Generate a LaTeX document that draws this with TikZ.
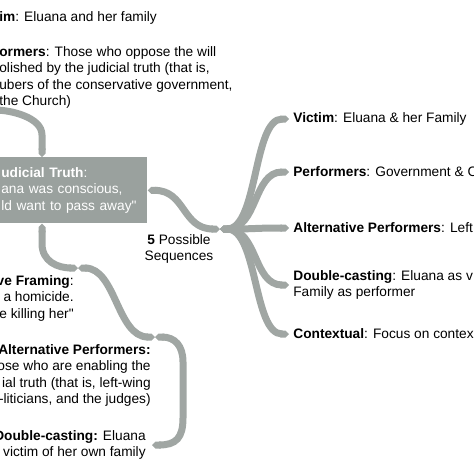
\documentclass[tikz,border=0pt]{standalone}
\usepackage{fontspec}
\setmainfont{Liberation Sans}
\usetikzlibrary{arrows.meta,positioning}

\definecolor{mapgray}{RGB}{154,161,158}
\definecolor{linkgray}{RGB}{160,166,163}

\tikzset{
  topic/.style={font=\fontsize{7.8}{9.2}\selectfont,inner sep=0pt},
  subtopic/.style={topic,anchor=west,inner xsep=0.8mm,align=left},
  link/.style={draw=linkgray,line width=1.4mm,{Triangle Cap}-{Triangle Cap}},
}

\begin{document}
\begin{tikzpicture}[x=0.2mm,y=-0.2mm]
	\useasboundingbox (0,0) rectangle (474,474);
	\clip (0,0) rectangle (474,474);
	% central topic
	\node[topic,fill=mapgray,text=white,anchor=north west,minimum width=30.2mm,
		minimum height=13.2mm,text width=28.2mm,inner xsep=1mm,align=left,
		font=\fontsize{7.8}{9.6}\selectfont] (truth) at (-4,157)
		{\textbf{udicial Truth}:\\ana was conscious,\\ld want to pass away\textquotedbl};
	\coordinate (tx) at (42,0);
	\coordinate (hub) at (220,229);
	\coordinate (tleft) at (-12,110);
	% left branches
	\node[topic,anchor=base west] (victimL) at (-1,21.5)
		{\textbf{im}: Eluana and her family};
	\node[topic,anchor=north west,align=left] (perfL) at (-1,46.5)
		{\textbf{ormers}: Those who oppose the will\\olished by the judicial truth (that is,\\ubers of the conservative government,\\the Church)};
	\node[topic,anchor=north east,align=right,inner xsep=0.8mm,inner ysep=1.5mm] (framing) at (78,268)
		{\textbf{ve Framing}:\\a homicide.\\e killing her\textquotedbl};
	\node[topic,anchor=north east,align=right,inner xsep=0.8mm,inner ysep=1.5mm] (altperfL) at (155,337)
		{\textbf{Alternative Performers:}\\ose who are enabling the\\ial truth (that is, left-wing\\-liticians, and the judges)};
	\node[topic,anchor=east,align=right,inner xsep=1.2mm] (doubleL) at (152,445)
		{\textbf{Double-casting:} Eluana\\victim of her own family};
	% sequences
	\node[topic,align=center] (seq) at (179,249) {\textbf{5} Possible\\Sequences};
	\node[subtopic] (victim) at (289,119) {\textbf{Victim}: Eluana \& her Family};
	\node[subtopic] (perf) at (289,172) {\textbf{Performers}: Government \& C};
	\node[subtopic] (altperf) at (289,228) {\textbf{Alternative Performers}: Left};
	\node[subtopic] (double) at (289,285) {\textbf{Double-casting}: Eluana as v\\Family as performer};
	\node[subtopic] (context) at (289,334) {\textbf{Contextual}: Focus on contex};
	% links
	\draw[link] (truth.north -| tx) -- ++(0,-22) .. controls +(0,-18) and +(22,0) .. (tleft);
	\draw[link] (truth.east) .. controls +(38,0) and +(-38,0) .. (hub);
	\foreach \t in {victim,perf,altperf,double,context}
		\draw[link] (hub) .. controls +(38,0) and +(-36,0) .. (\t.west);
	\draw[link] (truth.south -| tx) -- ++(0,20) .. controls +(0,18) and +(-20,0) .. (framing.north east);
	\draw[link] (framing.north east) .. controls +(38,0) and +(-38,0) .. (altperfL.north east);
	\draw[link] (altperfL.north east) .. controls +(20,0) and +(0,-16) .. ++(28,25)
		-- ++(0,56) .. controls +(0,20) and +(24,0) .. (doubleL.east);
\end{tikzpicture}
\end{document}
